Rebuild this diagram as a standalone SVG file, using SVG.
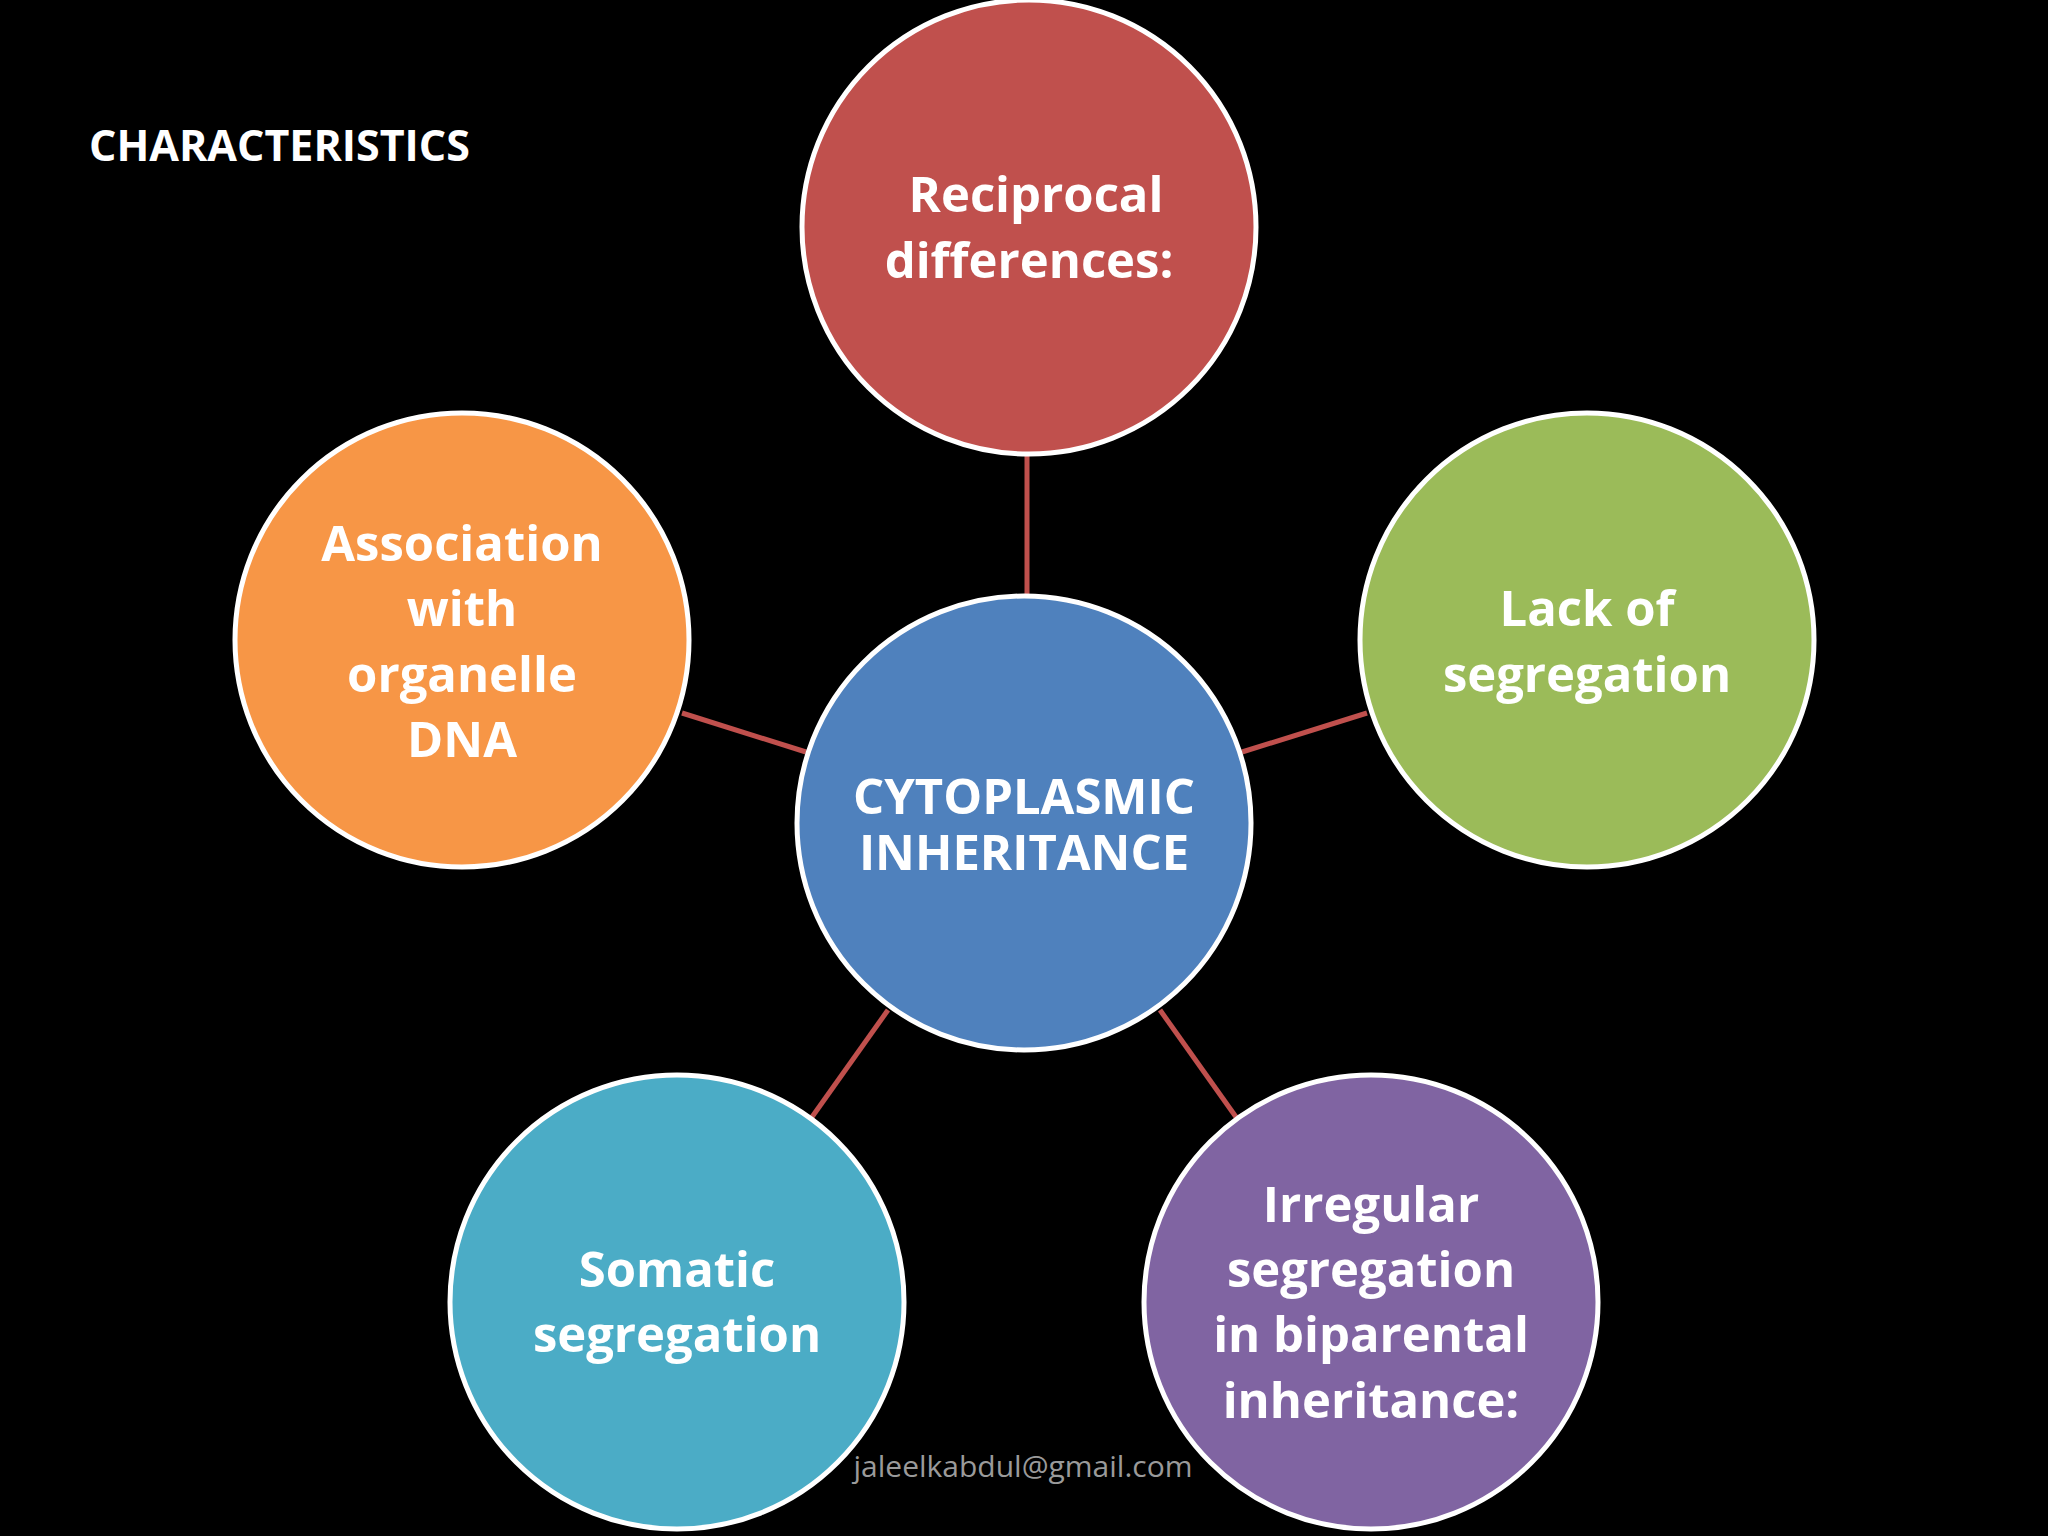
<svg xmlns="http://www.w3.org/2000/svg" width="2048" height="1536" viewBox="0 0 2048 1536">
<style>
.n{stroke:#fff;stroke-width:5}
.t{font-family:"Open Sans","Liberation Sans",sans-serif;font-weight:bold;fill:#fff;text-anchor:middle;dominant-baseline:central;font-size:49px}
.c{stroke:#c0504d;stroke-width:5}
</style>
<rect width="2048" height="1536" fill="#000"/>
<text x="89" y="144" font-family="'Open Sans','Liberation Sans',sans-serif" font-weight="bold" font-size="43" fill="#fff" dominant-baseline="central">CHARACTERISTICS</text>
<g id="connectors">
<line class="c" x1="1027" y1="455" x2="1027" y2="597"/>
<line class="c" x1="682" y1="713" x2="806" y2="752"/>
<line class="c" x1="1242" y1="752" x2="1367" y2="713"/>
<line class="c" x1="888" y1="1010" x2="812" y2="1117"/>
<line class="c" x1="1160" y1="1010" x2="1236" y2="1117"/>
</g>
<g id="center"><circle class="n" cx="1024" cy="823" r="227" fill="#4f81bd"/>
<text class="t" x="1024" y="795" font-size="35">CYTOPLASMIC</text><text class="t" x="1024" y="851" font-size="35">INHERITANCE</text></g>
<g id="top"><circle class="n" cx="1029" cy="227" r="227" fill="#c0504d"/>
<text class="t" x="1036" y="193">Reciprocal</text><text class="t" x="1029" y="259">differences:</text></g>
<g id="right"><circle class="n" cx="1587" cy="640" r="227" fill="#9bbb59"/>
<text class="t" x="1587" y="607">Lack of</text><text class="t" x="1587" y="673">segregation</text></g>
<g id="left"><circle class="n" cx="462" cy="640" r="227" fill="#f79646"/>
<text class="t" x="462" y="542">Association</text><text class="t" x="462" y="607">with</text><text class="t" x="462" y="673">organelle</text><text class="t" x="462" y="738">DNA</text></g>
<g id="bottomleft"><circle class="n" cx="677" cy="1302" r="227" fill="#4bacc6"/>
<text class="t" x="677" y="1268">Somatic</text><text class="t" x="677" y="1333">segregation</text></g>
<g id="bottomright"><circle class="n" cx="1371" cy="1302" r="227" fill="#8064a2"/>
<text class="t" x="1371" y="1203">Irregular</text><text class="t" x="1371" y="1268">segregation</text><text class="t" x="1371" y="1333">in biparental</text><text class="t" x="1371" y="1399">inheritance:</text></g>
<text x="1023" y="1465" font-family="'Open Sans','Liberation Sans',sans-serif" font-size="30" fill="#9a9a9a" text-anchor="middle" dominant-baseline="central">jaleelkabdul@gmail.com</text>
</svg>
